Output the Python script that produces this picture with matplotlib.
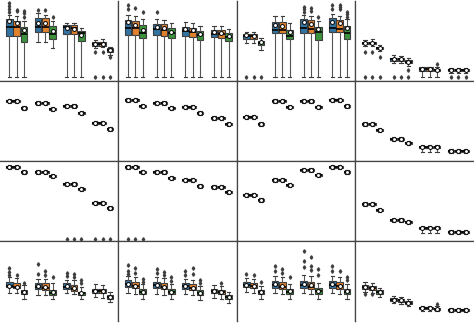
import matplotlib
matplotlib.use("Agg")
import matplotlib.pyplot as plt

# grupy na osi x i kolory serii (hue)
groups = ["A", "B", "C", "D"]
series = ["s1", "s2", "s3"]
colors = ["#3274a1", "#e1812c", "#3a923a"]

# statystyki pudełek: 16 paneli (wierszami), w każdym 4 grupy x 3 serie
WHISK_LO = [
    [3.7, 3.7, 3.7, 39.3, 39.3, 33.3, 3.7, 3.7, 3.7, 33, 33.7, 26],
    [4, 4, 4, 4, 4, 4, 4, 4, 4, 4, 4, 4],
    [37.7, 38, 31, 3.7, 3.7, 3.7, 3.7, 3.7, 3.7, 3.7, 3.7, 3.7],
    [35.3, 35.3, 29.7, 17.7, 18.3, 15, 4, 4, 4, 8, 8, 8],
    [58, 58, 51, 56, 56, 50, 53, 53, 46, 36, 36, 30],
    [59, 59, 53, 56, 56, 51, 52, 52, 46, 41, 41, 35],
    [42, 42, 35, 58, 58, 52, 58, 58, 52, 59, 59, 53],
    [35, 35, 29, 20, 20, 16, 9, 9, 9, 8, 8, 8],
    [72, 72, 67, 67, 67, 63, 55, 55, 50, 36, 36, 31],
    [72, 72, 67, 67, 67, 61, 59, 59, 53, 52, 52, 47],
    [44, 44, 39, 59, 59, 54, 69, 69, 64, 72, 72, 67],
    [35, 35, 29, 19, 19, 17, 8, 8, 8, 7, 7, 7],
    [27.7, 27.7, 21.7, 26, 26, 21.7, 27.7, 27, 21.7, 23.7, 22.7, 19.3],
    [28, 27, 22, 27, 26, 22, 27, 26, 21, 23, 22, 18],
    [29, 28, 22, 28, 27, 22, 28, 27, 22, 28, 27, 22],
    [29, 28, 24, 18, 17, 15, 10, 10, 10, 9, 9, 9],
]
Q1 = [
    [45.3, 45.3, 38.7, 48.7, 48.7, 41.7, 46.7, 46.7, 40, 35, 35, 28.7],
    [46, 46, 43, 46, 45, 43, 45, 44, 41, 44, 43, 40],
    [42.3, 42.3, 36, 47.7, 47.7, 41.7, 48.3, 48.3, 41, 49.3, 48.7, 42.3],
    [36.7, 36.7, 31.7, 20, 20, 17.7, 10.3, 10.3, 10, 9.7, 9.7, 9.7],
    [59, 59, 52, 57, 57, 51, 54, 54, 47, 37, 37, 31],
    [60, 60, 54, 57, 57, 52, 53, 53, 47, 42, 42, 36],
    [43, 43, 36, 59, 59, 53, 59, 59, 53, 60, 60, 54],
    [36, 36, 30, 21, 21, 17, 13, 13, 13, 9, 9, 9],
    [73, 73, 68, 68, 68, 64, 56, 56, 51, 37, 37, 32],
    [73, 73, 68, 68, 68, 62, 60, 60, 54, 53, 53, 48],
    [45, 45, 40, 60, 60, 55, 70, 70, 65, 73, 73, 68],
    [36, 36, 30, 20, 20, 18, 12, 12, 12, 8, 8, 8],
    [33.7, 32.7, 27, 32, 31, 26, 32, 30.3, 26, 28.3, 28.3, 22],
    [34, 33, 27, 33, 32, 27, 32, 31, 26, 28, 27, 22],
    [34, 33, 27, 33, 32, 27, 33, 32, 27, 33, 32, 27],
    [32, 31, 27, 20, 19.5, 17, 12, 12, 11.5, 10, 10, 10],
]
MEDIAN = [
    [53.7, 53.7, 47, 53.7, 53.7, 47, 53.7, 52.7, 47.7, 37, 37, 31],
    [53, 53, 48, 52, 51, 48, 50, 49, 46, 47, 47, 44],
    [44.7, 44.7, 38, 51, 51, 45.3, 52.7, 52, 48.7, 52.7, 51.7, 47.7],
    [38, 38, 33, 21.7, 21.7, 19.3, 12, 12, 11, 10.7, 10.7, 10.7],
    [60, 60, 53, 58, 58, 52, 55, 55, 48, 38, 38, 32],
    [61, 61, 55, 58, 58, 53, 54, 54, 48, 43, 43, 37],
    [44, 44, 37, 60, 60, 54, 60, 60, 54, 61, 61, 55],
    [37, 37, 31, 22, 22, 18, 14, 14, 14, 10, 10, 10],
    [74, 74, 69, 69, 69, 65, 57, 57, 52, 38, 38, 33],
    [74, 74, 69, 69, 69, 63, 61, 61, 55, 54, 54, 49],
    [46, 46, 41, 61, 61, 56, 71, 71, 66, 74, 74, 69],
    [37, 37, 31, 21, 21, 19, 13, 13, 13, 9, 9, 9],
    [35, 34.3, 29, 34, 33, 28.3, 34.3, 32, 27.7, 30, 30, 24],
    [37, 35, 29, 36, 34, 29, 35, 33, 28, 30, 29, 24],
    [36, 35, 29, 36, 34, 29, 36, 34, 30, 36, 35, 29],
    [34, 33, 29, 21.5, 21, 18.5, 13, 13, 12.5, 11, 11, 11],
]
Q3 = [
    [61.7, 60.3, 54.3, 62.7, 62.7, 55, 56, 56, 50.3, 39.3, 39.3, 32.7],
    [61, 60, 56, 57, 57, 53, 54, 53, 50, 51, 51, 48],
    [47, 47, 40.3, 58.7, 58.7, 51, 61.7, 60.7, 54.3, 62.7, 61, 55],
    [39.3, 39.3, 34.3, 23.3, 23.3, 21, 14.3, 14.3, 12, 11.7, 11.7, 11.7],
    [61, 61, 54, 59, 59, 53, 56, 56, 49, 39, 39, 33],
    [62, 62, 56, 59, 59, 54, 55, 55, 49, 44, 44, 38],
    [45, 45, 38, 61, 61, 55, 61, 61, 55, 62, 62, 56],
    [38, 38, 32, 23, 23, 19, 15, 15, 15, 11, 11, 11],
    [75, 75, 70, 70, 70, 66, 58, 58, 53, 39, 39, 34],
    [75, 75, 70, 70, 70, 64, 62, 62, 56, 55, 55, 50],
    [47, 47, 42, 62, 62, 57, 72, 72, 67, 75, 75, 70],
    [38, 38, 32, 22, 22, 20, 14, 14, 14, 10, 10, 10],
    [39.3, 38.3, 31, 37.7, 37.7, 31, 37.7, 36, 29.3, 31.7, 31.7, 26],
    [41, 39, 32, 39, 38, 32, 38, 37, 31, 32, 31, 26],
    [39, 38, 31, 40, 39, 32, 40, 39, 33, 40, 39, 32],
    [36, 35, 31, 23, 22.5, 20, 14, 14, 13.5, 12, 12, 12],
]
WHISK_HI = [
    [66, 65, 60.3, 67.7, 66, 60.3, 58.3, 57.7, 52.7, 41, 42, 34.3],
    [66, 65, 62, 62, 61, 58, 59, 58, 55, 55, 55, 52],
    [49.3, 49, 42.7, 65, 65, 58.3, 66, 65, 60.3, 67, 65, 61.7],
    [41, 41.7, 36, 26, 25, 22.7, 14.3, 14.3, 14, 12.7, 12.7, 12.7],
    [62, 62, 55, 60, 60, 54, 57, 57, 50, 40, 40, 34],
    [63, 63, 57, 60, 60, 55, 56, 56, 50, 45, 45, 39],
    [46, 46, 39, 62, 62, 56, 62, 62, 56, 63, 63, 57],
    [39, 39, 33, 24, 24, 20, 16, 16, 16, 12, 12, 12],
    [76, 76, 71, 71, 71, 67, 59, 59, 54, 40, 40, 35],
    [76, 76, 71, 71, 71, 65, 63, 63, 57, 56, 56, 51],
    [48, 48, 43, 63, 63, 58, 73, 73, 68, 76, 76, 71],
    [39, 39, 33, 23, 23, 21, 15, 15, 15, 11, 11, 11],
    [44.3, 42.7, 36, 41.7, 41.7, 37.7, 41, 41, 34.3, 36.7, 36, 29.3],
    [45, 44, 37, 44, 43, 37, 42, 41, 35, 36, 35, 29],
    [43, 42, 35, 45, 44, 37, 46, 45, 38, 45, 44, 37],
    [39, 38, 33, 25, 24, 22, 15, 15, 15, 13, 13, 13],
]
MEAN = [
    [60.3, 57.7, 51, 58.3, 58.3, 50.3, 52.7, 51.7, 46, 37, 37, 31],
    [59, 56, 51, 54, 53, 49, 52, 51, 47, 49, 48, 45],
    [45.7, 45.3, 38.7, 56, 55, 48.7, 59.3, 57, 52, 59.3, 57.7, 52.7],
    [38, 38, 33, 21.7, 21.7, 19.3, 12, 12, 11, 10.7, 10.7, 10.7],
    [60, 60, 53, 58, 58, 52, 55, 55, 48, 38, 38, 32],
    [61, 61, 55, 58, 58, 53, 54, 54, 48, 43, 43, 37],
    [44, 44, 37, 60, 60, 54, 60, 60, 54, 61, 61, 55],
    [37, 37, 31, 22, 22, 18, 14, 14, 14, 10, 10, 10],
    [74, 74, 69, 69, 69, 65, 57, 57, 52, 38, 38, 33],
    [74, 74, 69, 69, 69, 63, 61, 61, 55, 54, 54, 49],
    [46, 46, 41, 61, 61, 56, 71, 71, 66, 74, 74, 69],
    [37, 37, 31, 21, 21, 19, 13, 13, 13, 9, 9, 9],
    [35, 34.3, 29, 34.7, 34, 28.7, 34.7, 33, 28, 30, 30, 24],
    [37.5, 35.5, 29.5, 36, 34.5, 29.5, 35, 33.5, 28.5, 30, 29, 24],
    [36.5, 35.5, 29, 37, 35.5, 30, 37, 36, 30.5, 37, 35.5, 30],
    [34, 33, 29, 21.5, 21, 18.5, 13, 13, 12.5, 11, 11, 11],
]
# wartości odstające: panel -> {indeks pudełka: [wartości]}
FLIERS = [
    {0: [77.7, 75, 72.3, 69.3], 1: [71.5, 70], 2: [70.3, 67.7, 64.3], 3: [71], 4: [71],
     5: [63.7], 9: [28.7, 3.7], 10: [28.7, 3.7], 11: [23.7, 3.7]},
    {0: [76, 72], 1: [73], 2: [69], 3: [69]},
    {0: [3.7], 1: [3.7], 2: [3.7], 6: [73.7, 71.7, 69.3], 7: [72.7, 70.3], 8: [64.3],
     9: [76, 71.7], 10: [76, 73.7, 71.7], 11: [69.3, 67, 64.3]},
    {0: [28.7, 3.7], 1: [28.7, 3.7], 2: [23.7, 3.7], 3: [3.7], 4: [3.7], 5: [11, 3.7],
     8: [16.7], 9: [3.7], 10: [3.7], 11: [3.7]},
    {}, {}, {}, {},
    {6: [2], 7: [2], 8: [2], 9: [2], 10: [2], 11: [2]},
    {0: [2], 1: [2], 2: [2]},
    {}, {},
    {0: [52.7, 49.3, 46], 1: [46], 2: [38.3], 3: [57, 46.7], 4: [50, 46], 5: [43.7],
     6: [47.7, 45], 7: [46.7, 44.3], 8: [41, 38.3]},
    {0: [56, 50, 47], 1: [53, 48], 2: [42, 39], 3: [52, 48], 4: [49, 46], 5: [44, 40],
     6: [50, 46], 7: [53, 47], 8: [41, 38], 10: [38]},
    {0: [47], 1: [46], 2: [39], 3: [55, 50], 4: [52, 48], 5: [44], 6: [70, 60, 54],
     7: [64, 55, 51], 8: [52, 46], 9: [55, 50], 10: [50], 11: [44, 41]},
    {0: [27], 1: [27], 8: [17]},
]

W, H = 474, 325
fig = plt.figure(figsize=(W / 100, H / 100), dpi=100)

line_col = "#3d3d3d"
hue_off = [-0.255, 0.0, 0.255]

for p in range(16):
    r, c = divmod(p, 4)
    left = (-0.5 + 118.5 * c) / W
    bottom = 1 - (81 + 80 * r) / H
    ax = fig.add_axes([left, bottom, 118.5 / W, 80 / H])

    stats, pos = [], []
    for g in range(len(groups)):
        for h in range(len(series)):
            k = g * 3 + h
            stats.append(dict(med=MEDIAN[p][k], q1=Q1[p][k], q3=Q3[p][k],
                              whislo=WHISK_LO[p][k], whishi=WHISK_HI[p][k],
                              mean=MEAN[p][k], fliers=FLIERS[p].get(k, [])))
            pos.append(g + hue_off[h])

    bp = ax.bxp(stats, positions=pos, widths=0.23, patch_artist=True,
                showmeans=True, showfliers=True,
                boxprops=dict(edgecolor=line_col, linewidth=0.8),
                whiskerprops=dict(color="#555555", linewidth=0.8),
                capprops=dict(color=line_col, linewidth=0.8),
                medianprops=dict(color="black", linewidth=1.2),
                meanprops=dict(marker="o", markerfacecolor="white",
                               markeredgecolor="black", markersize=2.8,
                               markeredgewidth=0.7),
                flierprops=dict(marker="d", markerfacecolor=line_col,
                                markeredgecolor=line_col, markersize=1.8))
    for i, box in enumerate(bp["boxes"]):
        box.set_facecolor(colors[i % 3])

    ax.set_xlim(-0.6, 3.53)
    ax.set_ylim(0, 80)
    ax.set_xticks([])
    ax.set_yticks([])
    for s in ax.spines.values():
        s.set_color("#444444")
        s.set_linewidth(0.9)
    # zewnętrzne krawędzie siatki bez obramowania
    if r == 0:
        ax.spines["top"].set_visible(False)
    if r == 3:
        ax.spines["bottom"].set_visible(False)
    if c == 0:
        ax.spines["left"].set_visible(False)
    if c == 3:
        ax.spines["right"].set_visible(False)

fig.savefig("out.png", dpi=100)
